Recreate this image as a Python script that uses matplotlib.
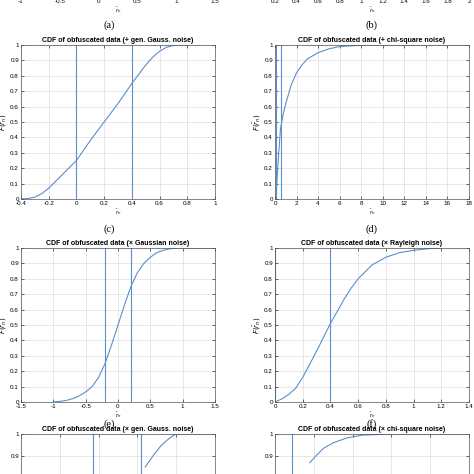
import matplotlib
matplotlib.use("Agg")
import matplotlib.pyplot as plt
import numpy as np

plt.rcParams['font.family'] = ['Liberation Sans', 'DejaVu Sans']

# panel data
c_x = [-0.4, -0.35, -0.3, -0.25, -0.2, -0.1, 0, 0.1, 0.2, 0.3, 0.4, 0.5, 0.55, 0.6, 0.65, 0.7, 0.75, 0.8]
c_y = [0, 0.003, 0.012, 0.035, 0.07, 0.16, 0.25, 0.38, 0.5, 0.62, 0.75, 0.87, 0.92, 0.96, 0.985, 0.997, 1, 1]
c_v = [0, 0.4]
d_x = [0.1, 0.2, 0.3, 0.5, 0.75, 1, 1.5, 2, 2.5, 3, 4, 5, 6, 8, 10, 18]
d_y = [0, 0.14, 0.25, 0.45, 0.55, 0.62, 0.74, 0.82, 0.87, 0.91, 0.95, 0.975, 0.99, 0.998, 1, 1]
d_v = [0.1, 0.6]
e_x = [-1, -0.9, -0.8, -0.7, -0.6, -0.5, -0.4, -0.3, -0.2, -0.1, 0, 0.1, 0.2, 0.3, 0.4, 0.5, 0.6, 0.7, 0.8, 0.9, 1, 1.5]
e_y = [0, 0.004, 0.01, 0.022, 0.04, 0.065, 0.1, 0.16, 0.25, 0.37, 0.5, 0.63, 0.75, 0.84, 0.9, 0.94, 0.97, 0.985, 0.995, 0.999, 1, 1]
e_v = [-0.2, 0.2]
f_x = [0, 0.05, 0.1, 0.15, 0.2, 0.25, 0.3, 0.35, 0.4, 0.45, 0.5, 0.55, 0.6, 0.7, 0.8, 0.9, 1.0, 1.1, 1.2]
f_y = [0, 0.02, 0.05, 0.09, 0.16, 0.245, 0.33, 0.42, 0.51, 0.59, 0.67, 0.74, 0.8, 0.89, 0.94, 0.97, 0.985, 0.995, 1]
f_v = [0.0, 0.4]
g_x = [0.64, 0.68, 0.72, 0.75, 0.78, 0.8, 1.0]
g_y = [0.85, 0.9, 0.945, 0.97, 0.99, 1, 1]
g_v = [0.37, 0.62]
h_x = [1.8, 2.1, 2.5, 3, 3.7, 4.5, 6, 10]
h_y = [0.87, 0.9, 0.935, 0.96, 0.982, 0.995, 1, 1]
h_v = [0.9]

titles = {
    'c': 'CDF of obfuscated data (+ gen. Gauss. noise)',
    'd': 'CDF of obfuscated data (+ chi-square noise)',
    'e': 'CDF of obfuscated data (\u00d7 Gaussian noise)',
    'f': 'CDF of obfuscated data (\u00d7 Rayleigh noise)',
    'g': 'CDF of obfuscated data (\u00d7 gen. Gauss. noise)',
    'h': 'CDF of obfuscated data (\u00d7 chi-square noise)',
}

W = 474.0
fig = plt.figure(figsize=(4.74, 4.74), dpi=100)
col = '#5b8fc9'

def mkax(x0, x1, ytop, ybot):
    return fig.add_axes([x0 / W, 1 - ybot / W, (x1 - x0) / W, (ybot - ytop) / W])

def style(ax, xlim, xticks, ylim=(0, 1), yticks=np.arange(0, 1.01, 0.1)):
    ax.set_xlim(*xlim)
    ax.set_ylim(*ylim)
    ax.set_xticks(xticks)
    ax.set_xticklabels([('%g' % t) for t in xticks])
    ax.set_yticks(yticks)
    ax.set_yticklabels([('%g' % round(t, 2)) for t in yticks])
    ax.tick_params(direction='in', labelsize=4.5, length=2, width=0.4, pad=1.5, top=True, right=True)
    ax.grid(True, color='#d4d4d4', lw=0.4, ls='-')
    for s in ax.spines.values():
        s.set_linewidth(0.5)
        s.set_color('#555555')

def panel(ax, key, xs, ys, vs):
    ax.plot(xs, ys, color=col, lw=0.8)
    for v in vs:
        ax.axvline(v, color=col, lw=0.8)
    ax.set_title(titles[key], fontsize=5, fontweight='bold', pad=2)
    ax.set_xlabel(r'$\bar{r}_n$', fontsize=4, labelpad=0.5)
    ax.set_ylabel(r'$F(\bar{r}_n)$', fontsize=5, labelpad=1)

def lab(x, y, s):
    fig.text(x / W, 1 - y / W, s, ha='center', va='center', fontsize=7.5, family=['Liberation Serif'])

# top row (cropped)
a = mkax(21, 215, -160, -3)
style(a, (-1, 1.5), [-1, -0.5, 0, 0.5, 1, 1.5])
a.set_xlabel(r'$\bar{r}_n$', fontsize=4, labelpad=0.5)
b = mkax(275, 469, -160, -3)
style(b, (0.2, 2), [0.2, 0.4, 0.6, 0.8, 1, 1.2, 1.4, 1.6, 1.8, 2])
b.set_xlabel(r'$\bar{r}_n$', fontsize=4, labelpad=0.5)
lab(109, 25, '(a)'); lab(372, 25, '(b)')

c = mkax(21, 215, 45, 199)
style(c, (-0.4, 1), [-0.4, -0.2, 0, 0.2, 0.4, 0.6, 0.8, 1]); panel(c, 'c', c_x, c_y, c_v)
d = mkax(275, 469, 45, 199)
style(d, (0, 18), list(range(0, 19, 2))); panel(d, 'd', d_x, d_y, d_v)
lab(109, 229, '(c)'); lab(372, 229, '(d)')

e = mkax(21, 215, 248, 402)
style(e, (-1.5, 1.5), [-1.5, -1, -0.5, 0, 0.5, 1, 1.5]); panel(e, 'e', e_x, e_y, e_v)
f = mkax(275, 469, 248, 402)
style(f, (0, 1.4), [0, 0.2, 0.4, 0.6, 0.8, 1, 1.2, 1.4]); panel(f, 'f', f_x, f_y, f_v)
lab(109, 424, '(e)'); lab(372, 424, '(f)')

g = mkax(21, 215, 434, 654)
style(g, (0, 1), [0, 0.2, 0.4, 0.6, 0.8, 1]); panel(g, 'g', g_x, g_y, g_v)
h = mkax(275, 469, 434, 654)
style(h, (0, 10), list(range(0, 11, 2))); panel(h, 'h', h_x, h_y, h_v)

fig.savefig('out.png', dpi=100)
